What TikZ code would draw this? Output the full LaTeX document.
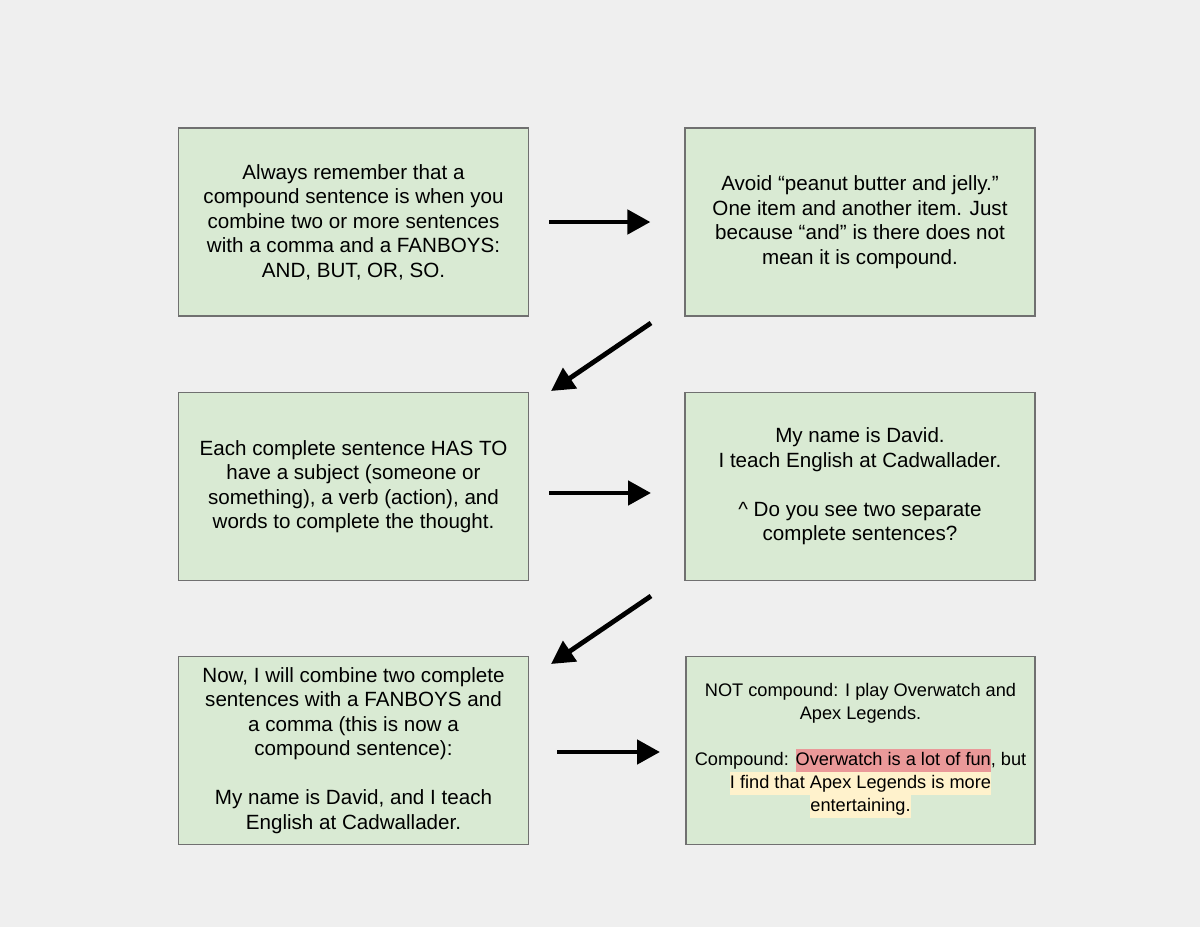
\documentclass[tikz,border=0pt]{standalone}
\usepackage{fontspec}
\setmainfont{Liberation Sans}
\usetikzlibrary{arrows.meta}
\definecolor{pagegray}{HTML}{EFEFEF}
\definecolor{boxgreen}{HTML}{D9EAD3}
\definecolor{boxline}{HTML}{707070}
\definecolor{hlred}{HTML}{EA9999}
\definecolor{hlyellow}{HTML}{FFF2CC}
\newcommand{\hlmark}[2]{{\setlength{\fboxsep}{0pt}\colorbox{#1}{\strut #2}}}

\begin{document}
\begin{tikzpicture}[x=0.5pt, y=-0.5pt, >={Triangle[length=11.5pt,width=12pt]},
	box/.style={draw=boxline, fill=boxgreen, line width=0.6pt, minimum width=175pt, minimum height=94pt, inner sep=0pt, align=center, font=\fontsize{10.3}{12.25}\selectfont},
	smallbox/.style={box, font=\fontsize{9.1}{11.5}\selectfont},
	flow/.style={->, line width=2.4pt}]

	\fill[pagegray] (0,0) rectangle (1200,927);

	\node[box] (remember) at (353.5,222) {Always remember that a\\compound sentence is when you\\combine two or more sentences\\with a comma and a FANBOYS:\\AND, BUT, OR, SO.};
	\node[box] (avoid) at (860,222) {Avoid \textquotedblleft peanut butter and jelly.\textquotedblright\\One item and another item. Just\\because \textquotedblleft and\textquotedblright\ is there does not\\mean it is compound.};
	\node[box] (subject) at (353.5,486.5) {Each complete sentence HAS TO\\have a subject (someone or\\something), a verb (action), and\\words to complete the thought.};
	\node[box] (david) at (860,486.5) {My name is David.\\I teach English at Cadwallader.\\[\baselineskip]\textasciicircum\ Do you see two separate\\complete sentences?};
	\node[box] (combine) at (353.5,750.5) {Now, I will combine two complete\\sentences with a FANBOYS and\\a comma (this is now a\\compound sentence):\\[\baselineskip]My name is David, and I teach\\English at Cadwallader.};
	\node[smallbox, minimum width=174.5pt] (games) at (860.5,750.5) {NOT compound: I play Overwatch and\\Apex Legends.\\[\baselineskip]Compound: \hlmark{hlred}{Overwatch is a lot of fun}, but\\\hlmark{hlyellow}{I find that Apex Legends is more}\\\hlmark{hlyellow}{entertaining.}};

	% arrows between the boxes
	\coordinate (d1from) at (651,323);
	\coordinate (d1to) at (551,391);
	\coordinate (d2from) at (651,596);
	\coordinate (d2to) at (551,664);
	\coordinate (r2from) at (549,493);
	\coordinate (r2to) at (651,493);
	\coordinate (r3from) at (557,752);
	\coordinate (r3to) at (660,752);

	\draw[flow, shorten <=10pt, shorten >=17pt] (remember) -- (avoid);
	\draw[flow] (d1from) -- (d1to);
	\draw[flow] (r2from) -- (r2to);
	\draw[flow] (d2from) -- (d2to);
	\draw[flow] (r3from) -- (r3to);

\end{tikzpicture}
\end{document}
